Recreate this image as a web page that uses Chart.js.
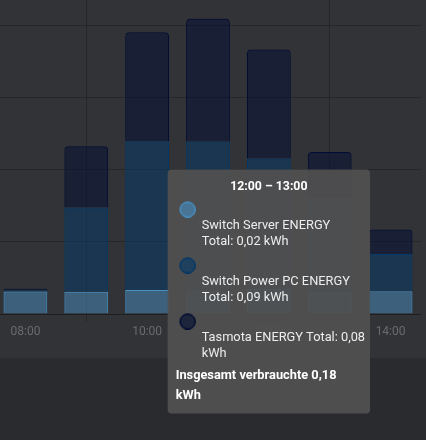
<!DOCTYPE html>
<html lang="de">
<head>
<meta charset="UTF-8">
<title>Energieverbrauch Geräte</title>
<script src="https://cdn.jsdelivr.net/npm/chart.js"></script>
<style>
    html, body {
        margin: 0;
        padding: 0;
        width: 426px;
        height: 440px;
        overflow: hidden;
        background: #2a2b2f;
        font-family: Roboto, sans-serif;
    }
    .card {
        position: absolute;
        left: 0;
        top: 0;
        width: 426px;
        height: 358px;
        background: #323337;
    }
    .chart-box {
        position: absolute;
        left: -5px;
        top: -47px;
        width: 426px;
        height: 487px;
    }
</style>
</head>
<body>
<div class="card"></div>
<div class="chart-box"><canvas id="energyChart"></canvas></div>

<script>
    // stündlicher Verbrauch in kWh
    const hours = ['08:00', '09:00', '10:00', '11:00', '12:00', '13:00', '14:00'];
    const serverKWh  = [0.0155, 0.0154, 0.0166, 0.0155, 0.0173, 0.0154, 0.0157];
    const powerPcKWh = [0.0009, 0.0584, 0.1030, 0.1040, 0.0904, 0.0646, 0.0258];
    const tasmotaKWh = [0.0010, 0.0424, 0.0756, 0.0849, 0.0754, 0.0322, 0.0171];

    const seriesNames = ['Switch Server ENERGY', 'Switch Power PC ENERGY', 'Tasmota ENERGY'];
    const seriesColors = ['#488fc2', '#043969', '#000d33'];

    const tickLabels = ['08:00', '10:00', '12:00', '14:00'];
    const gridHours = ['09:00', '13:00'];
    const activeHour = '12:00';
    const nextHour = '13:00';

    const gridColor = 'rgba(0,0,0,0.22)';
    const bodyFontSize = 12.8;

    const fmt = v => v.toFixed(2).replace('.', ',');

    // kleine Kreis-Symbole für den Tooltip
    function makeBullet(color) {
        const c = document.createElement('canvas');
        c.width = 24;
        c.height = 24;
        const g = c.getContext('2d');
        g.beginPath();
        g.arc(12, 16, 7.5, 0, Math.PI * 2);
        g.globalAlpha = 0.38;
        g.fillStyle = color;
        g.fill();
        g.globalAlpha = 1;
        g.lineWidth = 1;
        g.strokeStyle = color;
        g.stroke();
        return c;
    }
    const bullets = seriesColors.map(makeBullet);

    function wrapWords(ctx, words, font, maxWidth) {
        ctx.save();
        ctx.font = font;
        const lines = [];
        let line = '';
        words.forEach(w => {
            const test = line ? line + ' ' + w : w;
            if (line && ctx.measureText(test).width > maxWidth) {
                lines.push(line);
                line = w;
            } else {
                line = test;
            }
        });
        if (line) lines.push(line);
        ctx.restore();
        return lines;
    }

    Chart.Tooltip.positioners.hourTop = function(items) {
        if (!items.length) return false;
        return {
            x: items[0].element.x,
            y: this.chart.scales.y.getPixelForValue(0.1),
            xAlign: 'center',
            yAlign: 'top'
        };
    };

    const values = [serverKWh, powerPcKWh, tasmotaKWh];

    const ctx = document.getElementById('energyChart').getContext('2d');
    const energyChart = new Chart(ctx, {
        type: 'bar',
        data: {
            labels: hours,
            datasets: values.map((data, i) => ({
                label: seriesNames[i],
                data: data,
                backgroundColor: seriesColors[i] + '80',
                borderColor: seriesColors[i],
                borderWidth: 1,
                borderRadius: i === 2 ? {topLeft: 4, topRight: 4, bottomLeft: 0, bottomRight: 0} : 0
            }))
        },
        options: {
            responsive: true,
            maintainAspectRatio: false,
            animation: false,
            events: [],
            layout: {
                padding: {top: 0, left: 0, right: 0, bottom: 97.6}
            },
            plugins: {
                legend: {display: false},
                tooltip: {
                    mode: 'index',
                    position: 'hourTop',
                    backgroundColor: 'rgba(81,81,81,0.93)',
                    cornerRadius: 4,
                    caretSize: 0,
                    caretPadding: 0,
                    padding: {top: 10, left: 8, right: 5, bottom: 10},
                    titleAlign: 'center',
                    titleColor: '#ffffff',
                    titleFont: {family: 'Roboto', size: 12.3, weight: 'bold', lineHeight: 14 / 12.3},
                    titleMarginBottom: 0,
                    bodyColor: '#ededed',
                    bodyFont: {family: 'Roboto', size: bodyFontSize, lineHeight: 16 / bodyFontSize},
                    bodySpacing: 0,
                    footerColor: '#ffffff',
                    footerFont: {family: 'Roboto', size: bodyFontSize, weight: 'bold', lineHeight: 16 / bodyFontSize},
                    footerMarginTop: 6,
                    footerSpacing: 4,
                    displayColors: true,
                    usePointStyle: true,
                    boxWidth: 24,
                    boxHeight: 24,
                    boxPadding: 0,
                    callbacks: {
                        title: () => activeHour + ' – ' + nextHour,
                        label: c => {
                            const words = seriesNames[c.datasetIndex].split(' ');
                            words.push('Total:\u00a0' + fmt(c.raw), 'kWh');
                            return [''].concat(wrapWords(c.chart.ctx, words, bodyFontSize + 'px Roboto', 166));
                        },
                        labelPointStyle: c => ({pointStyle: bullets[c.datasetIndex], rotation: 0}),
                        footer: items => {
                            const sum = items.reduce((s, it) => s + it.raw, 0);
                            const words = ('Insgesamt verbrauchte ' + fmt(sum) + ' kWh').split(' ');
                            return wrapWords(items[0].chart.ctx, words, 'bold ' + bodyFontSize + 'px Roboto', 166);
                        }
                    }
                }
            },
            scales: {
                x: {
                    stacked: true,
                    offset: true,
                    grid: {
                        offset: false,
                        color: c => gridHours.includes(hours[c.index]) ? gridColor : 'transparent',
                        tickLength: 8
                    },
                    border: {display: true, color: gridColor},
                    ticks: {
                        autoSkip: false,
                        maxRotation: 0,
                        color: '#6a6b6e',
                        font: {family: 'Roboto', size: 12},
                        callback: (v, i) => tickLabels.includes(hours[i]) ? hours[i] : ''
                    }
                },
                y: {
                    stacked: true,
                    min: 0,
                    max: 0.25,
                    grid: {color: gridColor, drawTicks: false},
                    border: {display: false},
                    ticks: {display: false, stepSize: 0.05}
                }
            }
        }
    });

    const activeIndex = hours.indexOf(activeHour);
    energyChart.tooltip.setActiveElements(
        values.map((d, i) => ({datasetIndex: i, index: activeIndex})),
        {x: 0, y: 0}
    );
    energyChart.update();
</script>
</body>
</html>
